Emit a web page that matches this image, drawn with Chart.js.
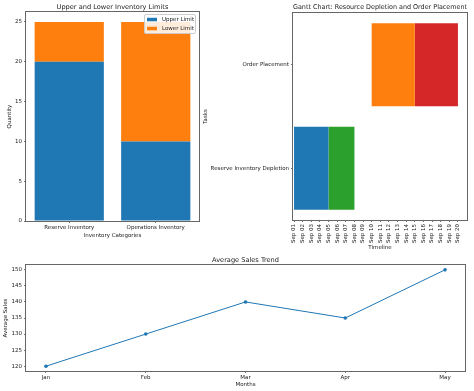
<!DOCTYPE html>
<html>
<head>
<meta charset="utf-8">
<script src="https://cdn.jsdelivr.net/npm/chart.js@4.4.0/dist/chart.umd.min.js"></script>
<style>
  body { margin: 0; background: #fff; }
  #wrap { position: relative; width: 474px; height: 391px; }
  canvas { position: absolute; }
</style>
</head>
<body>
<div id="wrap">
  <canvas id="limitsChart" width="237" height="245" style="left:0;top:0"></canvas>
  <canvas id="ganttChart" width="274" height="255" style="left:200px;top:0"></canvas>
  <canvas id="salesChart" width="474" height="139" style="left:0;top:252px"></canvas>
</div>
<script>
// inventory limits (stacked)
const categories = ['Reserve Inventory', 'Operations Inventory'];
const upperLimit = [20, 10];
const lowerLimit = [5, 15];
const qtyTicks = [0, 5, 10, 15, 20, 25];

// gantt, day of September as [start, end]
const tasks = ['Order Placement', 'Reserve Inventory Depletion'];
const firstPhase = [[10, 15], [1, 5]];
const secondPhase = [[15, 20], [5, 8]];
const dayTicks = [1, 2, 3, 4, 5, 6, 7, 8, 9, 10, 11, 12, 13, 14, 15, 16, 17, 18, 19, 20];

// sales trend
const months = ['Jan', 'Feb', 'Mar', 'Apr', 'May'];
const avgSales = [120, 130, 140, 135, 150];
const salesTicks = [120, 125, 130, 135, 140, 145, 150];

Chart.defaults.font.family = 'DejaVu Sans';
Chart.defaults.font.size = 5.5;
Chart.defaults.color = '#222';

const tickGrid = {drawOnChartArea: false, drawTicks: true, tickLength: 2, color: '#555', lineWidth: 0.8};
const noBorder = {display: false};
const titleFont = {size: 6.6, weight: 'normal'};

// matplotlib style box around the axes
const frame = {
    id: 'frame',
    afterDatasetsDraw(chart) {
        const {ctx, chartArea: a} = chart;
        ctx.save();
        ctx.strokeStyle = '#666';
        ctx.lineWidth = 1;
        ctx.strokeRect(Math.round(a.left) - 0.5, Math.round(a.top) - 0.5,
            Math.round(a.right - a.left) + 1, Math.round(a.bottom - a.top) + 1);
        ctx.restore();
    },
};

// legend drawn inside the plot, top right
const boxLegend = {
    id: 'boxLegend',
    afterDatasetsDraw(chart) {
        const {ctx, chartArea: a} = chart;
        const w = 51, h = 19;
        const x = a.right - w - 4, y = a.top + 2;
        ctx.save();
        ctx.fillStyle = 'rgba(255,255,255,0.85)';
        ctx.strokeStyle = '#ccc';
        ctx.lineWidth = 1;
        ctx.beginPath();
        ctx.roundRect(x + 0.5, y + 0.5, w, h, 1.5);
        ctx.fill();
        ctx.stroke();
        ctx.font = '5.5px "DejaVu Sans"';
        ctx.textBaseline = 'middle';
        chart.data.datasets.forEach((ds, i) => {
            const cy = y + 5.5 + i * 9;
            ctx.fillStyle = ds.backgroundColor;
            ctx.fillRect(x + 3, cy - 1.75, 10, 3.5);
            ctx.fillStyle = '#222';
            ctx.fillText(ds.label, x + 18, cy);
        });
        ctx.restore();
    },
};

new Chart(document.getElementById('limitsChart'), {
    type: 'bar',
    data: {
        labels: categories,
        datasets: [
            {label: 'Upper Limit', data: upperLimit, backgroundColor: '#1f77b4', barPercentage: 0.8, categoryPercentage: 1},
            {label: 'Lower Limit', data: lowerLimit, backgroundColor: '#ff7f0e', barPercentage: 0.8, categoryPercentage: 1},
        ],
    },
    options: {
        responsive: false,
        animation: false,
        layout: {padding: {top: 3, right: 38, left: 0, bottom: 0}},
        plugins: {
            legend: {display: false},
            tooltip: {enabled: false},
            title: {display: true, text: 'Upper and Lower Inventory Limits', fullSize: false, font: titleFont, padding: {top: 0, bottom: 1.1}},
        },
        scales: {
            x: {
                stacked: true,
                grid: {...tickGrid, offset: false},
                border: noBorder,
                ticks: {padding: 1.5},
                title: {display: true, text: 'Inventory Categories', padding: {top: 0, bottom: 6.4}},
                afterFit: (s) => { s.height = 24; },
            },
            y: {
                stacked: true,
                min: 0,
                max: 26.25,
                grid: tickGrid,
                border: noBorder,
                afterBuildTicks: (s) => { s.ticks = qtyTicks.map((v) => ({value: v})); },
                ticks: {padding: 2},
                title: {display: true, text: 'Quantity', padding: {top: 6, bottom: 0}},
                afterFit: (s) => { s.width = 26; },
            },
        },
    },
    plugins: [frame, boxLegend],
});

new Chart(document.getElementById('ganttChart'), {
    type: 'bar',
    data: {
        labels: tasks,
        datasets: [
            {data: firstPhase, backgroundColor: ['#ff7f0e', '#1f77b4'], barPercentage: 0.8, categoryPercentage: 1, grouped: false},
            {data: secondPhase, backgroundColor: ['#d62728', '#2ca02c'], barPercentage: 0.8, categoryPercentage: 1, grouped: false},
        ],
    },
    options: {
        indexAxis: 'y',
        responsive: false,
        animation: false,
        layout: {padding: {top: 3, right: 7, left: 0, bottom: 0}},
        plugins: {
            legend: {display: false},
            tooltip: {enabled: false},
            title: {display: true, text: 'Gantt Chart: Resource Depletion and Order Placement', fullSize: false, font: titleFont, padding: {top: 0, bottom: 2.1}},
        },
        scales: {
            x: {
                type: 'linear',
                min: 0.88,
                max: 21.05,
                grid: tickGrid,
                border: noBorder,
                afterBuildTicks: (s) => { s.ticks = dayTicks.map((v) => ({value: v})); },
                ticks: {
                    minRotation: 90,
                    maxRotation: 90,
                    autoSkip: false,
                    padding: 2,
                    callback: (v) => 'Sep ' + String(v).padStart(2, '0'),
                },
                title: {display: true, text: 'Timeline', padding: {top: 0, bottom: 4}},
                afterFit: (s) => { s.height = 35; },
            },
            y: {
                grid: {...tickGrid, offset: false},
                border: noBorder,
                ticks: {padding: 2},
                title: {display: true, text: 'Tasks', padding: {top: 2, bottom: 0}},
                afterFit: (s) => { s.width = 93; },
            },
        },
    },
    plugins: [frame],
});

new Chart(document.getElementById('salesChart'), {
    type: 'line',
    data: {
        datasets: [{
            data: avgSales.map((v, i) => ({x: i, y: v})),
            borderColor: '#1f77b4',
            backgroundColor: '#1f77b4',
            borderWidth: 1,
            pointRadius: 1.8,
            pointBorderWidth: 0,
        }],
    },
    options: {
        responsive: false,
        animation: false,
        layout: {padding: {top: 4.7, right: 9, left: 0, bottom: 0}},
        plugins: {
            legend: {display: false},
            tooltip: {enabled: false},
            title: {display: true, text: 'Average Sales Trend', fullSize: false, font: titleFont, padding: {top: 0, bottom: 0.4}},
        },
        scales: {
            x: {
                type: 'linear',
                min: -0.2,
                max: 4.2,
                grid: tickGrid,
                border: noBorder,
                afterBuildTicks: (s) => { s.ticks = months.map((m, i) => ({value: i})); },
                ticks: {padding: 1.5, callback: (v) => months[v]},
                title: {display: true, text: 'Months', padding: {top: 0, bottom: 3}},
                afterFit: (s) => { s.height = 20; },
            },
            y: {
                min: 118.5,
                max: 151.5,
                grid: tickGrid,
                border: noBorder,
                afterBuildTicks: (s) => { s.ticks = salesTicks.map((v) => ({value: v})); },
                ticks: {padding: 2},
                title: {display: true, text: 'Average Sales', padding: {top: 2.4, bottom: 0}},
                afterFit: (s) => { s.width = 26; },
            },
        },
    },
    plugins: [frame],
});
</script>
</body>
</html>
